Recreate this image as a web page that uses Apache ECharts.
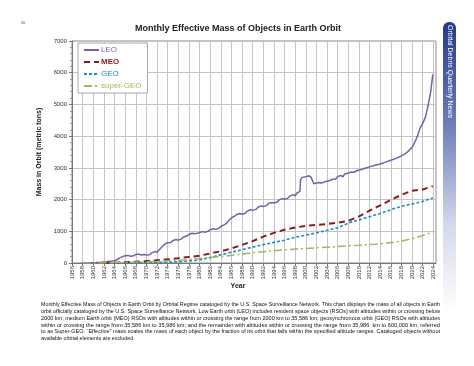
<!DOCTYPE html>
<html><head><meta charset="utf-8">
<script src="https://cdn.jsdelivr.net/npm/echarts@6/dist/echarts.min.js"></script>
<style>html,body{margin:0;padding:0;background:#fff}#c{width:474px;height:366px}</style>
</head><body><div id="c"></div>
<script>
const titleText = 'Monthly Effective Mass of Objects in Earth Orbit';
const yName = 'Mass in Orbit (metric tons)';
const xName = 'Year';
const seriesNames = ['LEO', 'MEO', 'GEO', 'super-GEO'];
const yTicks = [0, 1000, 2000, 3000, 4000, 5000, 6000, 7000];

const leo = [
[1957.8,0],[1958.5,5],[1959.5,10],[1960.5,15],[1961.5,25],[1962.5,40],[1963.0,55],[1963.5,60],[1964.0,70],[1964.5,110],
[1965.0,160],[1965.5,200],[1966.0,230],[1966.3,190],[1966.6,240],[1967.0,215],[1967.3,260],[1967.6,225],[1968.0,270],[1968.3,240],
[1968.6,280],[1969.0,250],[1969.3,300],[1969.6,265],[1970.0,250],[1970.3,290],[1970.6,260],[1971.0,320],[1971.3,300],[1971.6,360],
[1972.0,340],[1972.3,400],[1972.6,450],[1973.0,520],[1973.3,560],[1973.6,610],[1974.0,640],[1974.3,680],[1974.6,650],[1975.0,710],
[1975.3,690],[1975.6,740],[1976.0,720],[1976.3,780],[1976.6,760],[1977.0,820],[1977.3,870],[1977.6,850],[1978.0,900],[1978.3,880],
[1978.6,940],[1979.0,920],[1979.3,970],[1979.6,940],[1980.0,960],[1980.3,930],[1980.6,990],[1981.0,970],[1981.3,1030],[1981.6,1000],
[1982.0,1050],[1982.3,1020],[1982.6,1080],[1983.0,1060],[1983.3,1120],[1983.6,1090],[1984.0,1150],[1984.3,1130],[1984.6,1200],[1985.0,1240],
[1985.3,1300],[1985.6,1360],[1986.0,1420],[1986.3,1400],[1986.6,1480],[1987.0,1530],[1987.3,1500],[1987.6,1560],[1988.0,1540],[1988.3,1600],
[1988.6,1570],[1989.0,1640],[1989.3,1610],[1989.6,1680],[1990.0,1660],[1990.3,1720],[1990.6,1690],[1991.0,1760],[1991.3,1730],[1991.6,1800],
[1992.0,1780],[1992.3,1840],[1992.6,1810],[1993.0,1880],[1993.3,1850],[1993.6,1910],[1994.0,1890],[1994.3,1950],[1994.6,1920],[1995.0,1990],
[1995.3,1960],[1995.6,2030],[1996.0,2010],[1996.3,2070],[1996.6,2040],[1997.0,2110],[1997.3,2080],[1997.6,2150],[1998.0,2120],[1998.3,2200],
[1998.6,2170],[1998.9,2260],[1999.0,2620],[1999.3,2700],[1999.6,2640],[2000.0,2720],[2000.3,2660],[2000.6,2750],[2001.0,2700],[2001.3,2650],
[2001.5,2500],[2001.8,2560],[2002.0,2520],[2002.5,2540],[2003.0,2520],[2003.5,2560],[2004.0,2580],[2004.5,2600],[2005.0,2640],[2005.3,2700],
[2005.6,2650],[2006.0,2730],[2006.3,2680],[2006.6,2760],[2007.0,2720],[2007.3,2800],[2007.6,2760],[2008.0,2840],[2008.3,2800],[2008.6,2870],
[2009.0,2860],[2009.5,2900],[2010.0,2930],[2010.5,2950],[2011.0,2980],[2012.0,3030],[2013.0,3080],[2014.0,3120],[2015.0,3180],[2016.0,3240],
[2017.0,3300],[2018.0,3380],[2019.0,3480],[2019.5,3560],[2020.0,3650],[2020.5,3800],[2021.0,4000],[2021.5,4250],[2022.0,4400],[2022.5,4600],
[2023.0,4950],[2023.5,5400],[2023.9,5950]
];
const meo = [
[1962.0,0],[1964.0,10],[1966.0,25],[1968.0,40],[1970.0,60],[1972.0,90],[1974.0,115],[1976.0,150],[1978.0,190],[1980.0,230],
[1982.0,300],[1984.0,370],[1986.0,460],[1988.0,570],[1990.0,690],[1992.0,830],[1994.0,950],[1996.0,1050],[1998.0,1120],[2000.0,1170],
[2002.0,1200],[2004.0,1230],[2006.0,1270],[2008.0,1330],[2010.0,1470],[2012.0,1650],[2014.0,1820],[2016.0,1990],[2018.0,2150],[2020.0,2280],
[2022.0,2320],[2023.9,2420]
];
const geo = [
[1963.0,0],[1966.0,3],[1970.0,10],[1974.0,25],[1976.0,40],[1978.0,65],[1980.0,95],[1982.0,170],[1984.0,260],[1986.0,340],
[1988.0,420],[1990.0,500],[1992.0,580],[1994.0,650],[1996.0,720],[1998.0,810],[2000.0,880],[2002.0,950],[2004.0,1030],[2006.0,1110],
[2008.0,1260],[2010.0,1360],[2012.0,1460],[2014.0,1560],[2016.0,1680],[2018.0,1790],[2020.0,1860],[2022.0,1940],[2023.9,2050]
];
const sgeo = [
[1958.0,0],[1962.0,5],[1965.0,12],[1968.0,28],[1970.0,40],[1973.0,60],[1975.0,80],[1978.0,110],[1980.0,140],[1983.0,190],
[1985.0,220],[1988.0,280],[1990.0,320],[1993.0,375],[1995.0,400],[1998.0,440],[2000.0,460],[2003.0,490],[2005.0,510],[2008.0,540],
[2010.0,560],[2013.0,595],[2015.0,620],[2018.0,690],[2020.0,770],[2022.0,870],[2023.9,980]
];

const caption = [
'Monthly Effective Mass of Objects in Earth Orbit by Orbital Regime cataloged by the U.S. Space Surveillance Network. This chart displays the mass of all objects in Earth',
'orbit officially cataloged by the U.S. Space Surveillance Network. Low Earth orbit (LEO) includes resident space objects (RSOs) with altitudes within or crossing below',
'2000 km; medium Earth orbit (MEO) RSOs with altitudes within or crossing the range from 2000 km to 35,586 km; geosynchronous orbit (GEO) RSOs with altitudes',
'within or crossing the range from 35,586 km to 35,986 km; and the remainder with altitudes within or crossing the range from 35,986  km to 600,000 km, referred',
'to as Super-GEO. \u201CEffective\u201D mass scales the mass of each object by the fraction of its orbit that falls within the specified altitude ranges. Cataloged objects without',
'available orbital elements are excluded.'
];
const sideText = 'Orbital Debris Quarterly News';
const pageNo = '56';

const colors = ['#7B5EA7', '#8B1A1A', '#1F8BC2', '#9BBB59'];

const capFont = '6.2px "Liberation Sans"';
const cv = document.createElement('canvas').getContext('2d');
cv.font = capFont;
const firstScale = 399 / cv.measureText(caption[0]).width;
const capGraphics = caption.map((t, i) => {
  const w = cv.measureText(t).width;
  const sx = (i < caption.length - 1) ? 399 / w : firstScale;
  return {type: 'text', x: 41, y: 304.5 + i * 6.8, scaleX: sx, originX: 0,
    style: {text: t, font: capFont, fill: '#111', textVerticalAlign: 'middle'}};
});

const chart = echarts.init(document.getElementById('c'), null, {renderer: 'canvas'});
chart.setOption({
  animation: false,
  backgroundColor: '#fff',
  grid: {left: 72, right: 38, top: 41, bottom: 103, show: true, borderColor: '#8a8a8a', borderWidth: 1},
  legend: {
    orient: 'vertical', left: 78, top: 43, itemWidth: 15, itemHeight: 8, itemGap: 4,
    padding: [3, 6, 3, 5], backgroundColor: '#fff', borderColor: '#a8a8a8', borderWidth: 1, borderRadius: 0,
    itemStyle: {opacity: 0},
    textStyle: {fontSize: 8, fontFamily: 'Liberation Sans', padding: [0, 0, 0, -3]},
    data: seriesNames.map((n, i) => ({name: n, textStyle: {color: colors[i], fontWeight: i === 1 ? 'bold' : 'normal'}}))
  },
  xAxis: {
    type: 'value', min: 1956, max: 2024.5, interval: 2,
    axisLine: {show: true, lineStyle: {color: '#777'}},
    axisTick: {show: true, length: 3, lineStyle: {color: '#777'}},
    axisLabel: {rotate: 90, fontSize: 6, color: '#333', margin: 3, showMaxLabel: false, fontFamily: 'Liberation Sans',
      formatter: v => String(Math.round(v))},
    splitLine: {show: true, lineStyle: {color: '#c4c4c4', width: 1}}
  },
  yAxis: {
    type: 'value', min: 0, max: 7000, interval: 1000,
    name: yName, nameLocation: 'middle', nameGap: 27,
    nameTextStyle: {fontSize: 7, fontWeight: 'bold', color: '#222', fontFamily: 'Liberation Sans'},
    axisLine: {show: true, lineStyle: {color: '#777'}},
    axisTick: {show: true, length: 3, lineStyle: {color: '#777'}},
    minorTick: {show: true, splitNumber: 5, length: 2, lineStyle: {color: '#999'}},
    axisLabel: {fontSize: 6, color: '#333', margin: 5, fontFamily: 'Liberation Sans',
      formatter: v => yTicks.includes(v) ? String(v) : ''},
    splitLine: {show: true, lineStyle: {color: '#c4c4c4', width: 1}}
  },
  series: [
    {name: seriesNames[0], type: 'line', data: leo, symbol: 'none', lineStyle: {color: colors[0], width: 1.5}, itemStyle: {color: colors[0]}},
    {name: seriesNames[1], type: 'line', data: meo, symbol: 'none', lineStyle: {color: colors[1], width: 2, type: [6, 4]}, itemStyle: {color: colors[1]}},
    {name: seriesNames[2], type: 'line', data: geo, symbol: 'none', lineStyle: {color: colors[2], width: 1.6, type: [3, 2]}, itemStyle: {color: colors[2]}},
    {name: seriesNames[3], type: 'line', data: sgeo, symbol: 'none', lineStyle: {color: colors[3], width: 1.5, type: [8, 3, 2, 3]}, itemStyle: {color: colors[3]}}
  ],
  graphic: [
    {type: 'text', x: 238, y: 29, style: {text: titleText, font: 'bold 9px "Liberation Sans"', fill: '#222', textAlign: 'center', textVerticalAlign: 'middle'}},
    {type: 'text', x: 238, y: 286, style: {text: xName, font: 'bold 7px "Liberation Sans"', fill: '#222', textAlign: 'center', textVerticalAlign: 'middle'}},
    {type: 'text', x: 23, y: 23, style: {text: pageNo, font: '4px "Liberation Sans"', fill: '#555', textAlign: 'center', textVerticalAlign: 'middle'}},
    {type: 'rect', shape: {x: 443, y: 22, width: 13, height: 290, r: [6, 6, 0, 0]},
      style: {fill: new echarts.graphic.LinearGradient(0, 0, 0, 1, [
        {offset: 0, color: '#26398a'}, {offset: 0.35, color: '#6c7db8'}, {offset: 0.7, color: '#d4d9ec'}, {offset: 1, color: '#ffffff'}])}},
    {type: 'text', x: 449.5, y: 25, rotation: -Math.PI / 2,
      style: {text: sideText, font: '7px "Liberation Sans"', fill: '#fff', textAlign: 'left', textVerticalAlign: 'middle'}}
  ].concat(capGraphics)
});
</script></body></html>
